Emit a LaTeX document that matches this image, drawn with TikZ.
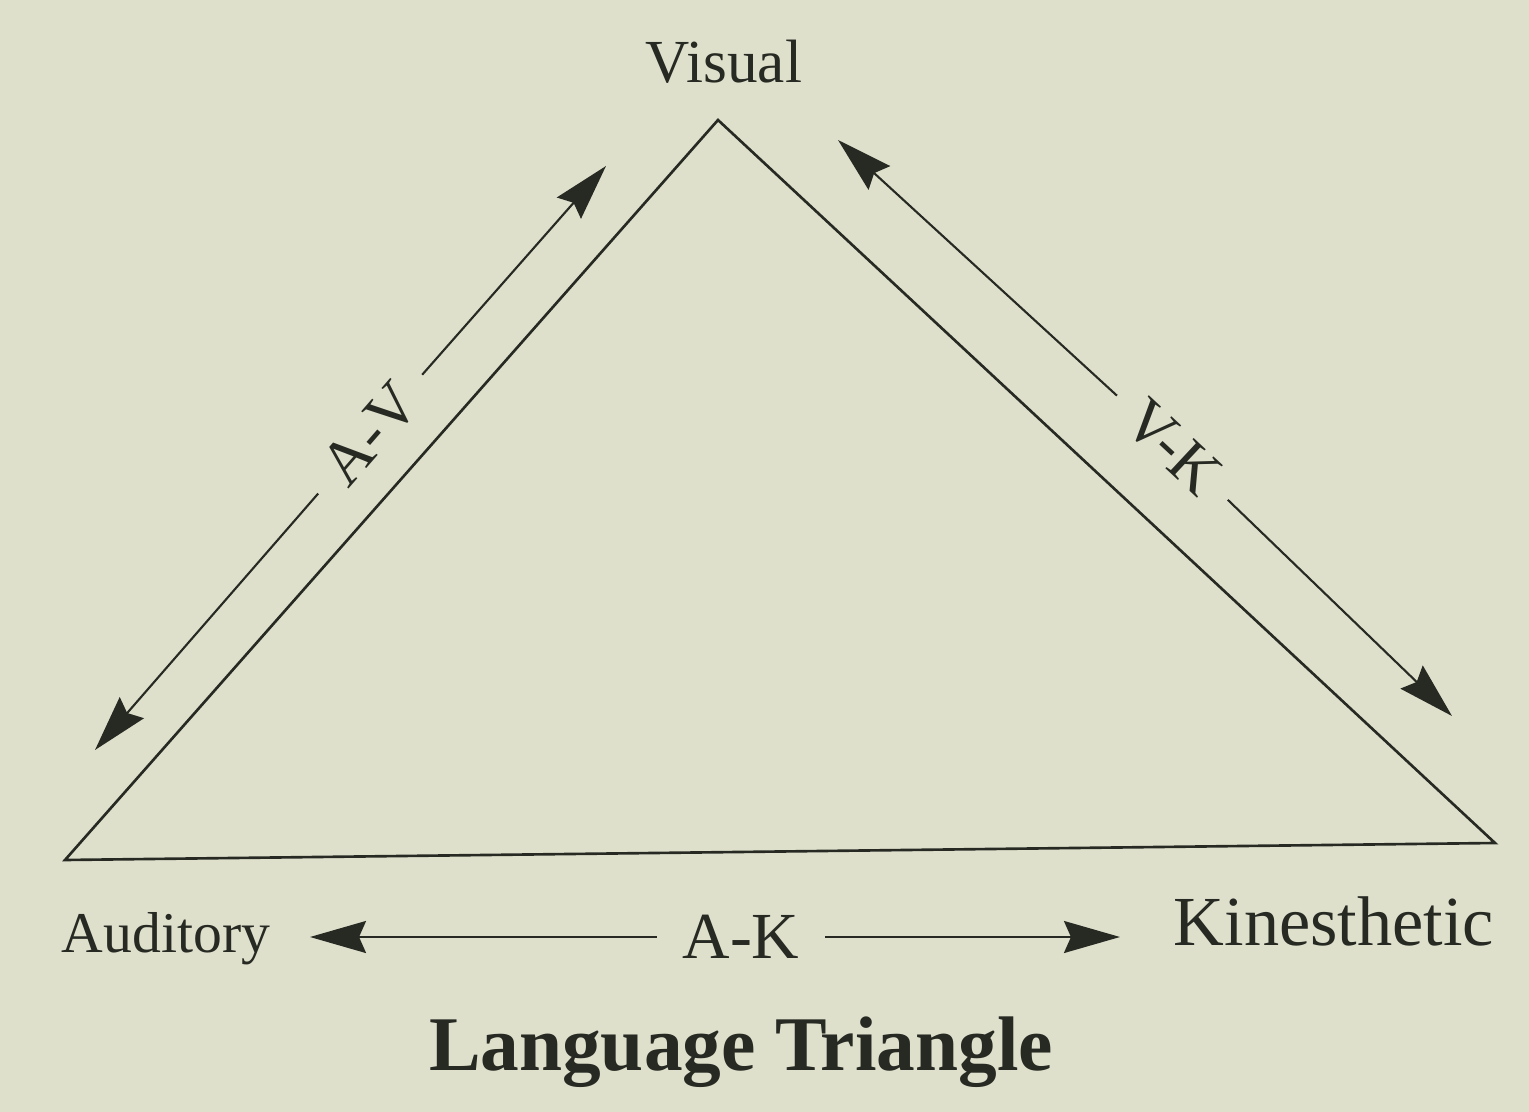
\documentclass[tikz,border=0pt]{standalone}
\usepackage{fontspec}
\setmainfont{Liberation Serif}
\usepackage{tikz}
\usetikzlibrary{arrows.meta}

\definecolor{paper}{RGB}{223,224,204}
\definecolor{ink}{RGB}{38,42,34}

\tikzset{
  lbl/.style={text=ink,font=\fontsize{18}{20}\selectfont,inner sep=0pt},
  gaplbl/.style={lbl,inner xsep=0.22cm,inner ysep=2pt},
  side/.style={draw=ink,line width=0.75pt,line join=miter},
  arr/.style={draw=ink,line width=0.6pt,-{Stealth[length=0.56cm,width=0.32cm,inset=0.07cm]}}
}

\begin{document}
\begin{tikzpicture}[x=0.01cm,y=-0.01cm]
\useasboundingbox[fill=paper] (0,0) rectangle (1529,1112);
% corners of the triangle
\coordinate (v) at (718,120);
\coordinate (a) at (65,860);
\coordinate (k) at (1495,843);
\draw[side] (a) -- (v) -- (k) -- cycle;
% corner labels
\node[lbl,anchor=base,font=\fontsize{17.4}{20}\selectfont] (visual) at (724,82) {Visual};
\node[lbl,anchor=base,font=\fontsize{16.4}{20}\selectfont] (auditory) at (166,952) {Auditory};
\node[lbl,anchor=base,font=\fontsize{20}{22}\selectfont] (kinesthetic) at (1334,945) {Kinesthetic};
% pair labels
\node[gaplbl,rotate=49] (av) at (370,434) {A-V};
\node[gaplbl,rotate=-43] (vk) at (1173,447) {V-K};
\node[gaplbl,inner xsep=0.25cm,font=\fontsize{18.7}{20}\selectfont] (ak) at (741,937) {A-K};
% arrow ends
\coordinate (avA) at (95,750);
\coordinate (avV) at (606,166);
\coordinate (vkV) at (838,140);
\coordinate (vkK) at (1452,716);
\coordinate (akA) at (310,937);
\coordinate (akK) at (1120,937);
\draw[arr] (av) -- (avA);
\draw[arr] (av) -- (avV);
\draw[arr] (vk) -- (vkV);
\draw[arr] (vk) -- (vkK);
\draw[arr] (ak) -- (akA);
\draw[arr] (ak) -- (akK);
% caption
\node[lbl,anchor=base,font=\bfseries\fontsize{22}{24}\selectfont] (title) at (741,1070) {Language Triangle};
\end{tikzpicture}
\end{document}
